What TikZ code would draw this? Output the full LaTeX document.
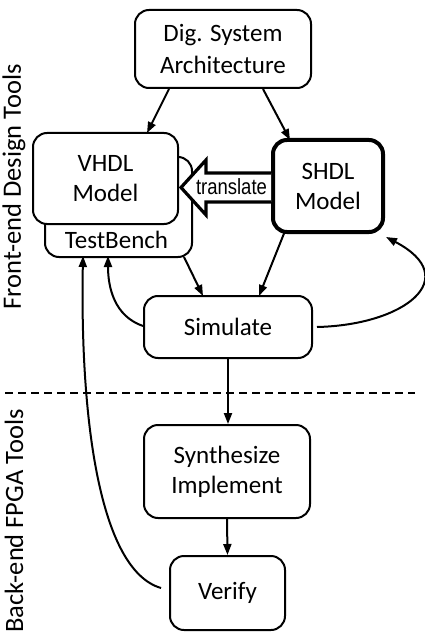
\documentclass[tikz,border=0pt]{standalone}
\usepackage{fontspec}
\setmainfont{Carlito}
\newfontfamily\arialfont{Liberation Sans}
\usetikzlibrary{arrows.meta}
\begin{document}
\begin{tikzpicture}[x=1pt,y=-1pt,
  box/.style={draw,line width=2pt,rounded corners=14pt,fill=white,align=center,inner sep=0pt,
    font=\fontsize{25}{30}\selectfont},
  arr/.style={line width=2pt,-{Triangle[length=11pt,width=8pt]}},
  sidelabel/.style={rotate=90,font=\fontsize{26.5}{30}\selectfont,inner sep=0pt}]
\useasboundingbox (0,0) rectangle (424,636);
% boxes
\node[box,minimum width=176pt,minimum height=78pt,font=\fontsize{25}{32}\selectfont] (dig) at (223,49) {Dig. System\\Architecture};
\node[box,minimum width=147pt,minimum height=100pt] (tb) at (118.5,207) {};
\node[font=\fontsize{25}{30}\selectfont,inner sep=0pt] (tbtext) at (116.5,240) {TestBench};
\node[box,minimum width=145pt,minimum height=91pt] (vhdl) at (105.5,178.5) {VHDL\\Model};
\node[box,line width=4pt,minimum width=110pt,minimum height=92pt] (shdl) at (328,186) {SHDL\\Model};
\node[box,minimum width=168pt,minimum height=62pt] (sim) at (228,327) {Simulate};
\node[box,minimum width=166pt,minimum height=93pt] (syn) at (227,471.5) {Synthesize\\Implement};
\node[box,minimum width=115pt,minimum height=74pt] (ver) at (227.5,593) {Verify};
% translate arrow
\draw[line width=3.2pt,fill=white,line join=miter]
  (shdl.west |- 0,173) -- (206,173) -- (206,160) -- (181,187.5) -- (206,215) -- (206,202) -- (shdl.west |- 0,202);
\node[font=\arialfont\fontsize{22}{24}\selectfont,inner sep=0pt,xscale=0.84,anchor=base] (tr) at (231.5,195) {translate};
% side labels
\node[sidelabel] (fe) at (14,187) {Front-end Design Tools};
\node[sidelabel] (be) at (14,521) {Back-end FPGA Tools};
% dashed separator
\coordinate (dl) at (5,393);
\coordinate (dr) at (415,393);
\draw[line width=1.6pt,dash pattern=on 8pt off 5pt] (dl) -- (dr);
% connectors
\draw[arr] ([xshift=35pt]dig.south west) -- ([xshift=41.5pt,yshift=-1pt]vhdl.north);
\draw[arr] ([xshift=-49pt]dig.south east) -- ([xshift=-38pt,yshift=-2pt]shdl.north);
\draw[arr] ([xshift=-9pt,yshift=1pt]tb.south east) -- ([xshift=60pt,yshift=-1pt]sim.north west);
\draw[arr] ([xshift=-43pt,yshift=3pt]shdl.south) -- ([xshift=-54pt,yshift=-1pt]sim.north east);
\draw[arr] ([yshift=1pt]sim.west) .. controls +(-29,-10) and +(0,31) .. ([xshift=-10.5pt,yshift=2pt]tb.south);
\draw[arr] ([xshift=4pt]sim.east) .. controls +(88,-2) and +(78,41) .. ([xshift=1pt,yshift=-3pt]shdl.south east);
\draw[arr] (sim.south) -- (sim.south |- syn.north);
\draw[arr] (syn.south) -- (ver.north);
\draw[arr] ([xshift=-8pt,yshift=5pt]ver.west) .. controls +(-62,-18) and +(-3,161) .. ([xshift=-35.5pt,yshift=2pt]tb.south);
\end{tikzpicture}
\end{document}
